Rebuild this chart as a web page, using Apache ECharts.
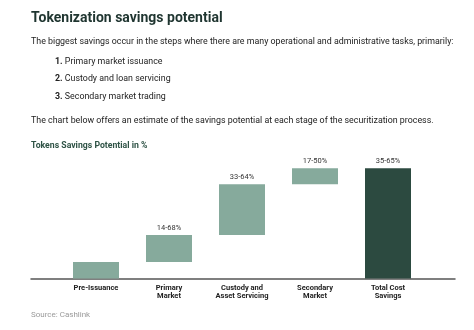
<!DOCTYPE html>
<html>
<head>
<meta charset="utf-8">
<script src="https://cdn.jsdelivr.net/npm/echarts@6/dist/echarts.min.js"></script>
<style>
html,body{margin:0;padding:0;background:#fff;}
#main{width:474px;height:330px;}
</style>
</head>
<body>
<div id="main"></div>
<script>
const categories = ['Pre-Issuance', 'Primary\nMarket', 'Custody and\nAsset Servicing', 'Secondary\nMarket', 'Total Cost\nSavings'];
const barStart = [0, 15, 39.5, 85.5, 0];
const barEnd = [15, 39.5, 85.5, 100, 100];
const rangeLabels = ['', '14-68%', '33-64%', '17-50%', '35-65%'];
const listItems = ['Primary market issuance', 'Custody and loan servicing', 'Secondary market trading'];

const FONT = 'Roboto, "Noto Sans", sans-serif';
const LIGHT = '#86aa9c';
const DARK = '#2c4a40';
const BODY = 8.85;

const titles = [
  {text: 'Tokenization savings potential', left: 31, top: 11.5, padding: 0,
   textStyle: {fontFamily: FONT, fontSize: 14, fontWeight: 'bold', color: '#1f3530'}},
  {text: 'The biggest savings occur in the steps where there are many operational and administrative tasks, primarily:',
   left: 31, top: 37.5, padding: 0, textStyle: {fontFamily: FONT, fontSize: BODY, fontWeight: 'normal', color: '#222'}},
  {text: 'The chart below offers an estimate of the savings potential at each stage of the securitization process.',
   left: 31, top: 116.3, padding: 0, textStyle: {fontFamily: FONT, fontSize: BODY, fontWeight: 'normal', color: '#222'}},
  {text: 'Tokens Savings Potential in %', left: 31, top: 141, padding: 0,
   textStyle: {fontFamily: FONT, fontSize: 8.7, fontWeight: 'bold', color: '#2f5346'}},
  {text: 'Source: Cashlink', left: 31, top: 311, padding: 0,
   textStyle: {fontFamily: FONT, fontSize: 8, fontWeight: 'normal', color: '#9a9a9a'}}
];
listItems.forEach((t, i) => {
  titles.push({text: '{n|' + (i + 1) + '.} {t|' + t + '}', left: 55, top: 57.5 + i * 17.2, padding: 0,
    textStyle: {fontFamily: FONT, fontSize: BODY, fontWeight: 'normal', color: '#222',
      rich: {
        n: {fontFamily: FONT, fontSize: BODY, fontWeight: 'bold', color: '#222'},
        t: {fontFamily: FONT, fontSize: BODY, fontWeight: 'normal', color: '#222'}
      }}});
});

const chart = echarts.init(document.getElementById('main'), null, {renderer: 'canvas'});
chart.setOption({
  animation: false,
  backgroundColor: '#fff',
  title: titles,
  grid: [
    {left: 59.5, width: 365, top: 168.3, bottom: 51.5, containLabel: false},
    {left: 31, right: 19, top: 168.3, bottom: 51.5, containLabel: false}
  ],
  xAxis: [
    {type: 'category', gridIndex: 0, data: categories,
     axisLine: {show: false}, axisTick: {show: false},
     axisLabel: {interval: 0, margin: 5, fontFamily: FONT, fontSize: 7.5, fontWeight: 'bold', color: '#222', lineHeight: 8.5}},
    {type: 'value', gridIndex: 1, min: 0, max: 1,
     axisLine: {show: true, lineStyle: {color: '#555', width: 1.5}},
     axisTick: {show: false}, axisLabel: {show: false}, splitLine: {show: false}}
  ],
  yAxis: [
    {type: 'value', gridIndex: 0, min: 0, max: 100, show: false},
    {type: 'value', gridIndex: 1, min: 0, max: 1, show: false}
  ],
  series: [
    {type: 'bar', stack: 'w', xAxisIndex: 0, yAxisIndex: 0, barWidth: 46,
     itemStyle: {color: 'transparent'}, data: barStart, silent: true},
    {type: 'bar', stack: 'w', xAxisIndex: 0, yAxisIndex: 0, barWidth: 46,
     data: barEnd.map((e, i) => ({
       value: e - barStart[i],
       itemStyle: {color: i === categories.length - 1 ? DARK : LIGHT}
     })),
     label: {show: true, position: 'top', distance: 3,
       fontFamily: FONT, fontSize: 7.5, color: '#333',
       formatter: p => rangeLabels[p.dataIndex]}}
  ]
});
</script>
</body>
</html>
